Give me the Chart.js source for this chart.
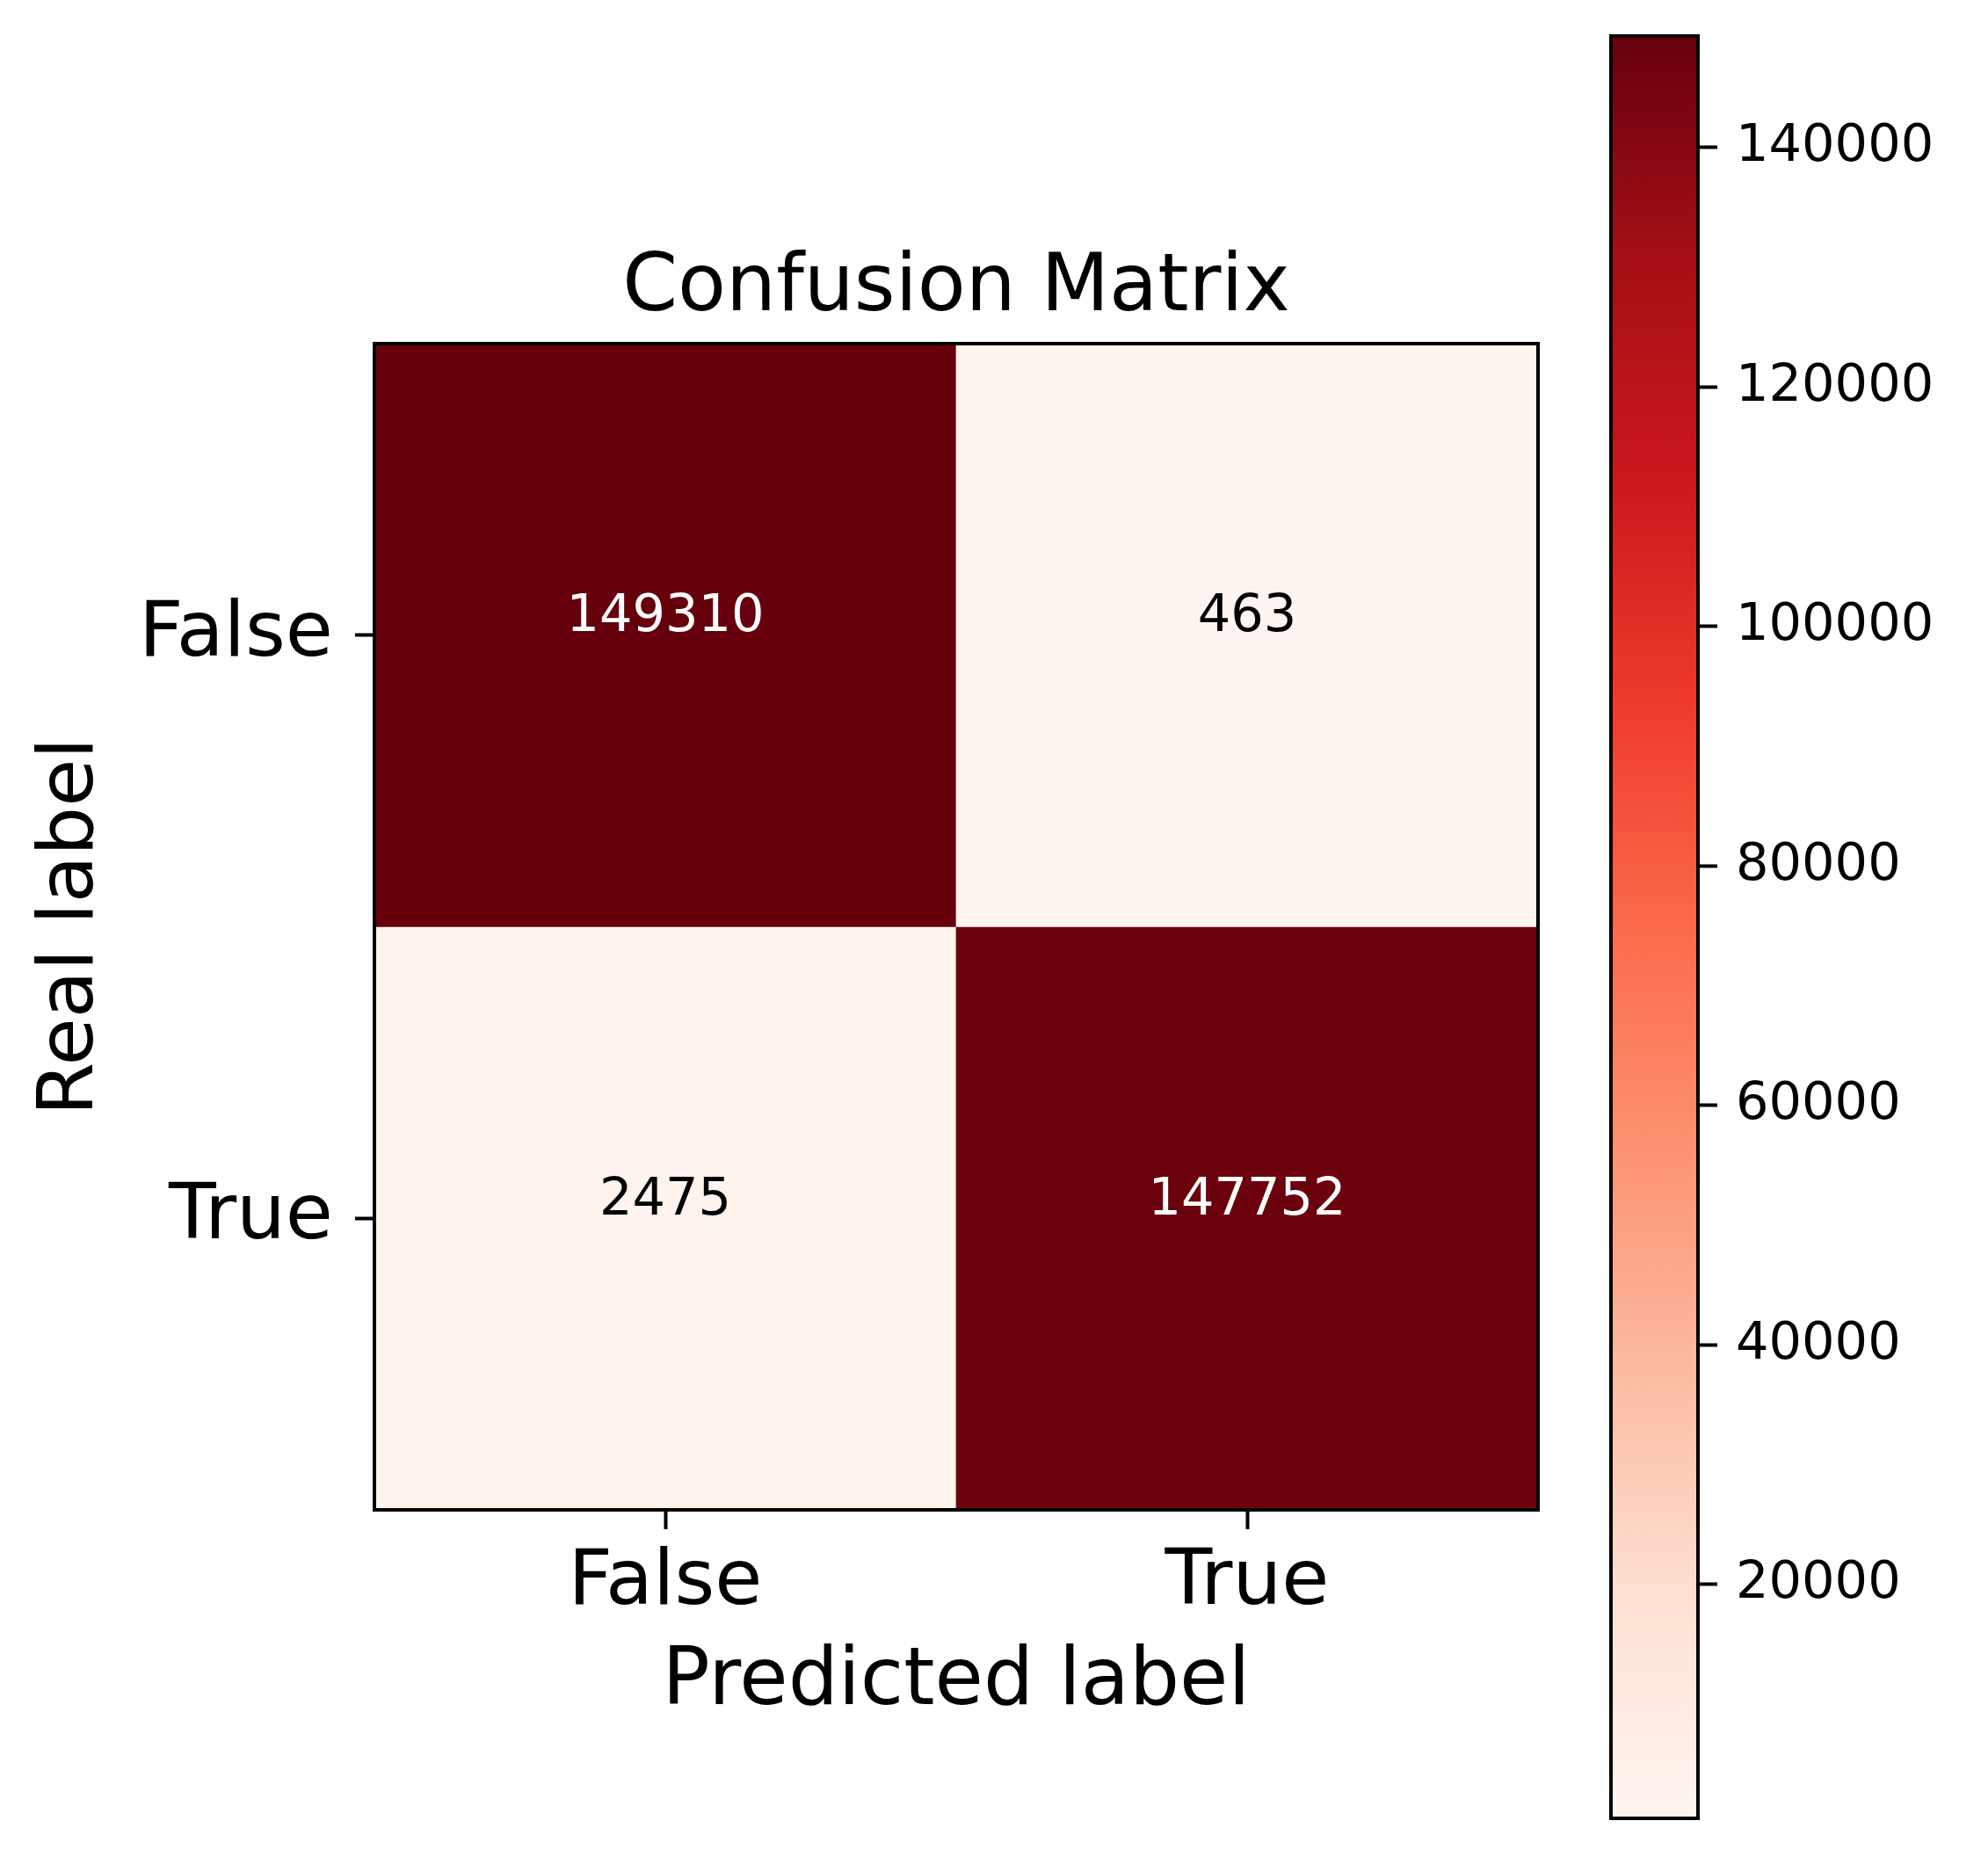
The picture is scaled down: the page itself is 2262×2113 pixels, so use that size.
<!DOCTYPE html>
<html>
<head>
<meta charset="utf-8">
<title>Confusion Matrix</title>
<script src="https://cdn.jsdelivr.net/npm/chart.js@4.4.1/dist/chart.umd.min.js"></script>
<style>
  html, body { margin: 0; padding: 0; background: #fff; }
  #wrap { position: relative; width: 2262px; height: 2113px; }
  #matrix { position: absolute; left: 0; top: 0; }
  #cbar { position: absolute; left: 1790px; top: 0; }
</style>
</head>
<body>
<div id="wrap">
  <canvas id="matrix" width="1790" height="2113"></canvas>
  <canvas id="cbar" width="472" height="2113"></canvas>
</div>
<script>
// axis categories
const predictedLabels = ['False', 'True'];
const realLabels = ['False', 'True'];
// counts, one array per real label (columns = predicted label)
const rowFalse = [149310, 463];
const rowTrue = [2475, 147752];
const cellRows = [rowFalse, rowTrue];
// colorbar tick values
const colorbarTicks = [20000, 40000, 60000, 80000, 100000, 120000, 140000];

// matplotlib "Reds"
const redsStops = ['#fff5f0', '#fee0d2', '#fcbba1', '#fc9272', '#fb6a4a',
                   '#ef3b2c', '#cb181d', '#a50f15', '#67000d'];
const FONT = 'DejaVu Sans';

const allValues = cellRows.flat();
const vmin = Math.min(...allValues);
const vmax = Math.max(...allValues);

function hexToRgb(h) {
  return [1, 3, 5].map(i => parseInt(h.substr(i, 2), 16));
}
function reds(t) {
  t = Math.max(0, Math.min(1, t));
  const pos = t * (redsStops.length - 1);
  const i = Math.min(Math.floor(pos), redsStops.length - 2);
  const f = pos - i;
  const a = hexToRgb(redsStops[i]), b = hexToRgb(redsStops[i + 1]);
  const c = a.map((v, k) => Math.round(v + (b[k] - v) * f));
  return 'rgb(' + c.join(',') + ')';
}

const frame = {
  id: 'frame',
  afterDatasetsDraw(chart) {
    const a = chart.chartArea;
    const ctx = chart.ctx;
    ctx.save();
    ctx.lineWidth = 4;
    ctx.strokeStyle = '#000';
    ctx.strokeRect(a.left, a.top, a.right - a.left, a.bottom - a.top);
    ctx.restore();
  }
};

const cellText = {
  id: 'cellText',
  afterDatasetsDraw(chart) {
    const ctx = chart.ctx;
    ctx.save();
    ctx.font = '59px "' + FONT + '"';
    ctx.textAlign = 'center';
    ctx.textBaseline = 'middle';
    chart.data.datasets.forEach((ds, i) => {
      chart.getDatasetMeta(i).data.forEach((bar, j) => {
        const v = ds.values[j];
        ctx.fillStyle = v > (vmin + vmax) / 2 ? '#ffffff' : '#000000';
        ctx.fillText(String(v), bar.x, (bar.y + bar.base) / 2 - 20);
      });
    });
    ctx.restore();
  }
};

const tickGrid = {
  drawOnChartArea: false,
  drawTicks: true,
  tickLength: 22,
  tickWidth: 4,
  tickColor: '#000'
};

const matrixDatasets = cellRows.map((row, r) => ({
  label: realLabels[r],
  data: row.map(() => [r - 0.5, r + 0.5]),
  values: row,
  backgroundColor: row.map(v => reds((v - vmin) / (vmax - vmin))),
  borderWidth: 0,
  grouped: false,
  barPercentage: 1,
  categoryPercentage: 1
}));

new Chart(document.getElementById('matrix'), {
  type: 'bar',
  data: { labels: predictedLabels, datasets: matrixDatasets },
  options: {
    responsive: false,
    animation: false,
    layout: { padding: { left: 0, right: 40, top: 0, bottom: 0 }, autoPadding: false },
    plugins: {
      legend: { display: false },
      tooltip: { enabled: false },
      title: {
        display: true,
        fullSize: false,
        text: 'Confusion Matrix',
        color: '#000',
        font: { family: FONT, size: 90, weight: 'normal' },
        padding: { top: 276, bottom: 7 }
      }
    },
    scales: {
      x: {
        type: 'category',
        offset: true,
        grid: Object.assign({ offset: false }, tickGrid),
        border: { display: false },
        ticks: { color: '#000', font: { family: FONT, size: 88 }, padding: 9, maxRotation: 0 },
        title: {
          display: true,
          text: 'Predicted label',
          color: '#000',
          font: { family: FONT, size: 90 },
          padding: { top: 0, bottom: 143 }
        },
        afterFit(scale) { scale.height = 395; }
      },
      y: {
        type: 'linear',
        min: -0.5,
        max: 1.5,
        reverse: true,
        afterBuildTicks(scale) { scale.ticks = realLabels.map((_, i) => ({ value: i })); },
        grid: tickGrid,
        border: { display: false },
        ticks: {
          color: '#000',
          font: { family: FONT, size: 88 },
          padding: 25,
          callback: v => realLabels[v]
        },
        title: {
          display: true,
          text: 'Real label',
          color: '#000',
          font: { family: FONT, size: 88 },
          padding: { top: 29, bottom: 0 }
        },
        afterFit(scale) { scale.width = 426; }
      }
    }
  },
  plugins: [cellText, frame]
});

new Chart(document.getElementById('cbar'), {
  type: 'bar',
  data: {
    labels: [''],
    datasets: [{
      data: [[vmin, vmax]],
      backgroundColor(c) {
        const area = c.chart.chartArea;
        if (!area) return redsStops[0];
        const g = c.chart.ctx.createLinearGradient(0, area.bottom, 0, area.top);
        redsStops.forEach((col, i) => g.addColorStop(i / (redsStops.length - 1), col));
        return g;
      },
      borderWidth: 0,
      barPercentage: 1,
      categoryPercentage: 1
    }]
  },
  options: {
    responsive: false,
    animation: false,
    layout: { padding: { left: 43, right: 0, top: 41, bottom: 44 }, autoPadding: false },
    plugins: { legend: { display: false }, tooltip: { enabled: false } },
    scales: {
      x: { display: false },
      y: {
        position: 'right',
        min: vmin,
        max: vmax,
        afterBuildTicks(scale) { scale.ticks = colorbarTicks.map(v => ({ value: v })); },
        grid: tickGrid,
        border: { display: false },
        ticks: {
          color: '#000',
          font: { family: FONT, size: 59 },
          padding: 21,
          callback: v => String(v)
        },
        afterFit(scale) {
          scale.width = 330;
          scale.paddingTop = 0;
          scale.paddingBottom = 0;
        }
      }
    }
  },
  plugins: [frame]
});
</script>
</body>
</html>
